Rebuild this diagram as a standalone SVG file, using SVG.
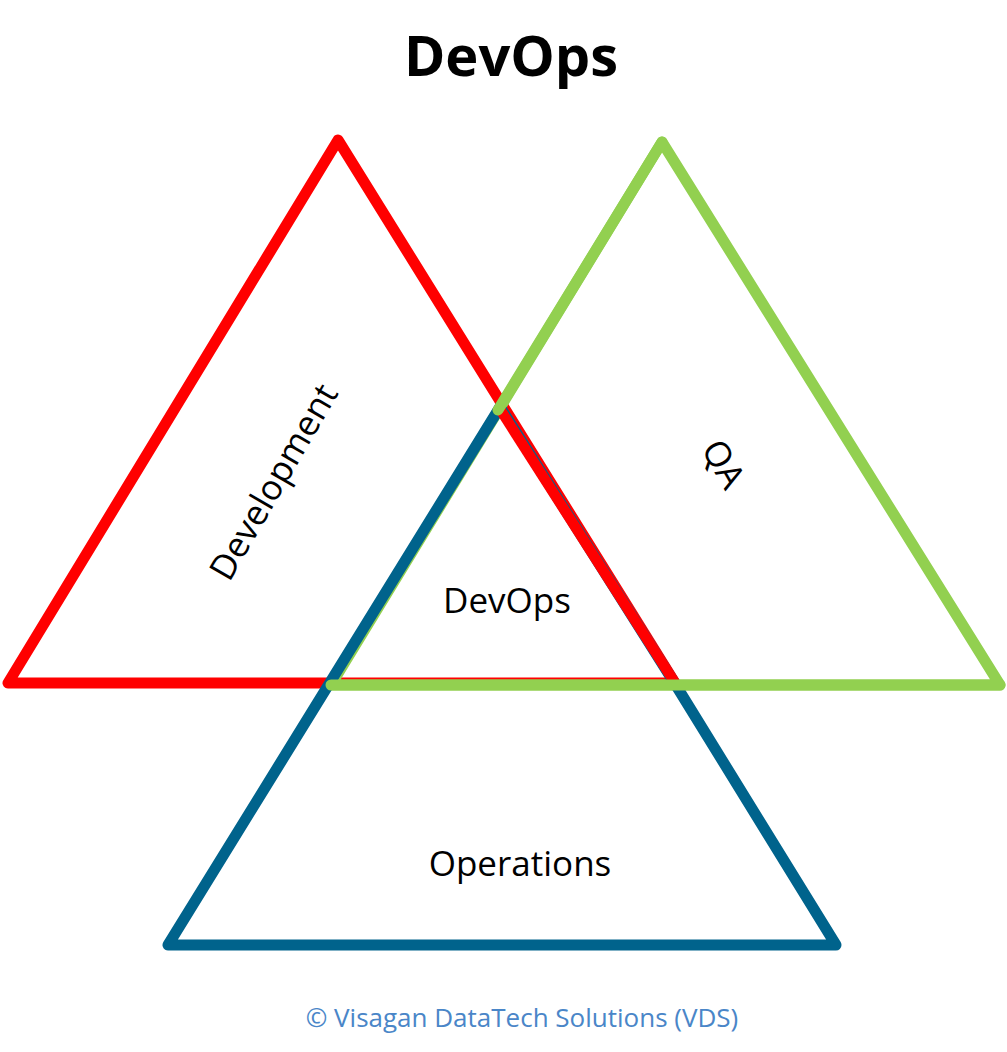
<svg xmlns="http://www.w3.org/2000/svg" width="1007" height="1052" viewBox="0 0 1007 1052">
<style>
.tri{fill:none;stroke-width:11;stroke-linejoin:round;stroke-linecap:round}
.lbl{font-family:"Open Sans","Noto Sans","DejaVu Sans",sans-serif;font-size:35px;fill:#000;text-anchor:middle}
</style>
<rect width="1007" height="1052" fill="#fff"/>
<text x="511" y="76" style="font-family:'Open Sans','Noto Sans',sans-serif;font-weight:bold;font-size:56px;text-anchor:middle">DevOps</text>
<g id="connectors">
<g id="dev"><polygon class="tri" stroke="#FF0000" points="338,140 8,683 675,683"/></g>
<g id="qa"><polygon class="tri" stroke="#92D050" points="662,142 331,685 1000,685"/></g>
<g id="ops"><polygon class="tri" stroke="#00638C" points="500,407 168,945 836,945 677,687"/>
<line x1="498" y1="406" x2="675" y2="683" stroke="#FF0000" stroke-width="10.5" stroke-linecap="butt"/>
<line x1="331" y1="685" x2="1000" y2="685" stroke="#92D050" stroke-width="11" stroke-linecap="round"/>
<line x1="662" y1="142" x2="498" y2="410" stroke="#92D050" stroke-width="11" stroke-linecap="round"/>
</g>
</g>
<g id="n-dev"><text class="lbl" transform="translate(284,488) rotate(-60)">Development</text></g>
<g id="n-qa"><text class="lbl" transform="translate(713,470) rotate(60)">QA</text></g>
<g id="n-devops"><text class="lbl" x="507" y="613">DevOps</text></g>
<g id="n-ops"><text class="lbl" x="520" y="876">Operations</text></g>
<text x="522" y="1027" style="font-family:'Open Sans','Noto Sans',sans-serif;font-size:26px;fill:#4A86C8;text-anchor:middle">© Visagan DataTech Solutions (VDS)</text>
</svg>
